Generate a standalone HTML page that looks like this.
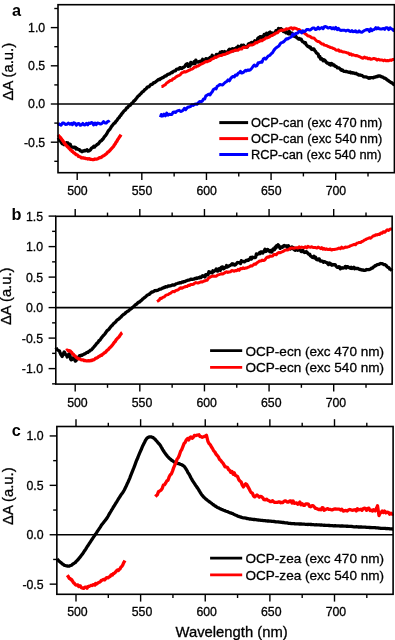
<!DOCTYPE html>
<html><head><meta charset="utf-8"><title>Figure</title>
<style>html,body{margin:0;padding:0;background:#fff;}svg{display:block}</style></head>
<body>
<svg width="395" height="640" viewBox="0 0 395 640">
<rect width="395" height="640" fill="#fff"/>
<g>
<polyline points="58.2,137.6 58.8,138.6 59.5,140.7 60.4,141.0 61.4,142.5 62.3,143.8 63.1,143.7 64.0,144.7 64.9,144.5 65.7,144.4 66.5,142.6 67.2,143.2 67.9,143.0 68.6,145.0 69.4,145.1 70.2,144.2 71.0,146.7 71.8,147.2 72.7,147.1 73.6,147.6 74.4,147.1 75.3,147.3 76.1,149.0 77.0,148.4 77.8,149.2 78.6,149.7 79.5,149.6 80.3,150.8 81.1,150.9 82.0,151.7 82.9,150.9 83.7,151.0 84.6,150.5 85.4,150.8 86.2,150.2 87.1,149.7 87.9,151.2 88.7,151.0 89.6,150.5 90.4,149.9 91.2,148.6 92.1,147.8 92.9,147.4 93.8,146.2 94.6,147.1 95.5,145.7 96.4,145.4 97.2,144.3 98.1,144.1 98.9,143.2 99.8,141.8 100.6,141.1 101.4,140.8 102.3,139.5 103.1,139.0 103.9,137.5 104.8,136.2 105.6,135.5 106.4,134.4 107.3,132.7 108.1,131.2 109.0,130.1 109.8,129.3 110.7,127.9 111.6,126.3 112.4,125.4 113.3,124.3 114.1,123.3 115.0,122.9 115.8,121.4 116.6,120.7 117.5,119.5 118.3,118.2 119.1,117.6 120.0,116.0 120.8,115.4 121.6,113.9 122.5,113.0 123.4,111.7 124.2,110.7 125.1,110.3 125.9,109.2 126.7,107.9 127.6,107.6 128.5,106.3 129.3,105.7 130.1,105.3 130.9,104.4 131.8,103.1 132.6,103.0 133.4,101.6 134.2,100.7 135.1,100.2 135.9,99.0 136.7,98.0 137.5,96.9 138.4,95.9 139.3,95.4 140.1,94.2 140.9,93.6 141.8,92.5 142.6,91.7 143.5,91.3 144.3,90.1 145.2,89.4 146.1,88.9 146.9,87.6 147.8,86.9 148.6,86.9 149.5,86.2 150.3,85.1 151.1,84.4 152.0,84.3 152.8,83.8 153.6,82.7 154.5,82.7 155.3,82.1 156.1,81.4 157.0,80.7 157.9,79.9 158.7,79.4 159.6,79.6 160.4,78.6 161.2,78.5 162.1,77.7 162.9,77.7 163.7,77.1 164.6,76.4 165.4,75.8 166.2,75.8 167.1,74.8 167.9,74.4 168.8,74.1 169.6,73.9 170.5,73.2 171.4,72.5 172.2,72.6 173.1,71.6 173.9,71.1 174.8,70.9 175.6,70.6 176.4,69.3 177.3,69.1 178.1,69.0 178.9,69.0 179.8,67.6 180.6,67.7 181.4,68.5 182.3,68.3 183.1,67.3 184.0,67.1 184.8,66.5 185.7,64.8 186.6,64.1 187.4,63.7 188.3,66.4 189.1,65.4 190.0,65.9 190.8,62.4 191.6,64.1 192.5,63.1 193.3,63.5 194.1,61.7 195.0,63.6 195.8,60.2 196.6,61.5 197.5,61.9 198.4,62.2 199.2,61.5 200.1,61.2 200.9,61.3 201.7,61.5 202.6,59.3 203.5,60.2 204.3,60.7 205.1,60.4 205.9,58.6 206.8,59.7 207.6,59.8 208.3,58.7 209.1,58.6 210.0,57.5 210.7,57.8 211.4,57.5 212.2,55.2 213.0,56.7 213.9,57.4 215.1,56.5 215.7,55.8 216.4,54.4 217.1,55.4 217.9,54.6 218.7,53.9 219.5,55.1 220.3,52.3 221.2,54.3 222.0,51.7 222.8,53.4 223.7,52.7 224.5,51.6 225.3,53.0 226.1,52.0 226.9,52.2 227.7,52.9 228.5,50.4 229.4,49.3 230.2,50.0 231.0,51.0 231.8,49.1 232.6,48.7 233.3,50.9 234.1,49.8 234.8,48.8 235.4,50.0 236.4,47.7 237.3,48.4 238.1,46.3 238.8,46.7 239.5,47.6 240.2,47.6 240.9,47.2 241.5,45.3 242.3,46.0 243.0,45.3 243.6,45.1 244.3,46.5 245.5,47.4 246.1,47.3 246.7,46.5 247.4,47.0 248.2,44.4 248.9,43.6 249.7,44.1 250.6,43.1 251.4,42.4 252.3,42.6 253.1,42.8 254.0,41.9 254.8,40.8 255.6,42.2 256.4,42.2 257.2,40.0 257.9,38.2 258.7,37.6 259.5,40.0 260.3,36.7 261.1,38.5 261.9,37.5 262.7,36.2 263.5,37.4 264.2,34.3 265.0,34.3 265.8,35.0 266.6,33.2 267.4,35.6 268.3,33.3 269.1,32.7 270.0,32.1 270.8,33.8 271.6,32.9 272.4,33.3 273.2,33.1 274.0,33.4 274.7,33.7 275.3,32.5 275.9,30.7 277.1,31.0 278.0,29.5 278.6,28.4 279.3,29.6 280.1,30.3 280.9,28.6 281.7,29.2 282.5,29.9 283.4,31.5 284.3,31.3 285.1,32.0 285.9,32.7 286.8,31.7 287.6,33.2 288.5,33.8 289.3,31.3 290.2,34.0 291.1,33.9 291.9,33.1 292.8,34.3 293.6,35.3 294.5,36.5 295.3,35.8 296.1,36.7 297.0,37.9 297.8,38.2 298.6,39.0 299.5,38.5 300.3,39.4 301.1,39.1 302.0,40.9 302.8,41.8 303.7,42.1 304.6,43.0 305.4,42.6 306.2,44.8 307.1,45.7 307.9,46.5 308.7,46.3 309.6,47.5 310.4,47.2 311.2,49.1 312.1,49.5 312.9,48.9 313.8,48.9 314.6,50.4 315.5,51.4 316.4,52.9 317.2,53.5 318.1,53.9 318.9,56.9 319.8,56.5 320.6,59.1 321.4,58.4 322.3,59.4 323.1,60.8 323.9,59.8 324.8,60.2 325.6,61.4 326.4,62.4 327.3,63.1 328.1,63.2 329.0,64.2 329.8,63.6 330.7,65.0 331.6,63.5 332.4,64.1 333.3,65.1 334.1,64.9 335.0,66.2 335.8,66.4 336.6,66.7 337.5,67.9 338.3,67.9 339.1,68.0 340.0,68.7 340.8,69.8 341.6,70.3 342.5,70.0 343.3,71.0 344.2,71.4 345.1,71.3 345.9,71.6 346.7,71.5 347.6,71.9 348.4,72.1 349.3,72.3 350.1,71.9 350.9,72.9 351.6,72.7 352.3,72.7 352.9,73.1 353.6,73.0 354.4,73.2 355.5,73.7 356.1,73.3 356.8,74.0 357.6,74.1 358.4,74.9 359.2,75.2 360.1,74.9 361.0,75.4 361.8,75.4 362.7,76.0 363.5,76.6 364.3,76.9 365.0,76.8 365.6,76.8 366.7,77.1 367.7,77.7 368.5,78.2 369.2,77.6 369.9,78.2 370.7,77.6 371.6,77.7 372.4,77.6 373.3,77.8 374.2,77.2 375.0,77.0 375.8,77.1 376.6,76.4 377.4,76.7 378.1,75.9 378.9,76.1 379.8,76.0 380.4,76.1 381.1,76.6 381.8,76.8 382.6,77.1 383.4,77.5 384.2,78.1 385.0,78.2 385.9,78.7 386.6,79.5 387.4,80.0 388.3,80.5 389.1,81.3 390.0,81.7 390.9,82.5 391.8,82.6 392.6,83.5 393.3,84.1 393.8,84.6 394.3,84.5" fill="none" stroke="#000" stroke-width="3.3" stroke-linejoin="round" stroke-linecap="butt"/>
<polyline points="58.2,134.9 58.7,135.7 59.5,136.7 60.4,137.5 61.3,138.7 62.3,140.1 63.1,141.1 64.0,142.6 64.8,143.6 65.6,144.6 66.4,145.5 67.2,146.5 68.0,147.0 68.8,148.1 69.6,148.7 70.4,149.9 71.2,150.1 72.0,151.4 72.8,151.6 73.6,152.7 74.4,153.1 75.3,153.8 76.1,154.7 76.9,154.7 77.7,155.3 78.6,156.5 79.5,156.7 80.3,156.8 81.1,157.8 82.0,158.0 82.9,157.7 83.7,158.1 84.6,158.1 85.4,158.4 86.3,158.7 87.1,158.6 88.0,159.1 88.9,158.7 89.7,158.9 90.4,159.4 91.3,159.3 92.0,159.5 92.7,159.7 93.5,159.6 94.2,159.4 95.0,159.0 95.8,159.2 96.6,159.1 97.5,158.8 98.3,158.4 99.1,157.9 100.0,157.6 100.9,157.5 101.7,157.1 102.6,156.2 103.5,155.8 104.3,155.3 105.2,154.7 106.0,154.2 106.9,153.3 107.7,152.2 108.5,152.0 109.4,150.9 110.3,150.1 111.1,149.0 111.9,148.3 112.7,147.3 113.6,146.4 114.4,144.8 115.2,143.9 116.0,142.3 116.8,141.4 117.7,139.6 118.7,138.2 119.6,136.8 120.4,135.7 121.0,134.7" fill="none" stroke="#f00" stroke-width="3.3" stroke-linejoin="round" stroke-linecap="butt"/>
<polyline points="161.4,86.6 162.4,86.5 163.8,85.5 165.4,84.7 166.6,83.0 167.9,82.2 169.2,81.2 170.5,80.4 171.8,80.3 173.1,78.7 174.3,78.5 175.6,77.2 176.9,76.4 178.1,75.7 179.3,75.4 180.6,74.3 181.9,72.7 183.1,72.4 184.4,71.6 185.7,72.0 187.0,71.3 188.3,70.7 189.5,70.2 190.8,69.4 192.1,69.1 193.3,68.2 194.5,66.9 195.8,67.1 197.1,66.0 198.4,65.9 199.6,65.0 200.9,64.3 202.2,63.6 203.5,63.1 204.7,62.3 205.9,61.5 207.3,61.7 208.6,61.0 210.0,60.6 211.1,59.6 212.2,58.9 213.4,58.6 215.1,57.1 216.1,57.5 217.3,56.8 218.6,56.0 219.9,55.6 221.3,55.6 222.6,54.8 224.0,54.6 225.3,54.3 226.6,53.6 227.8,52.8 229.1,52.8 230.4,52.0 231.6,51.5 232.9,51.0 234.1,50.8 235.4,49.9 236.7,50.3 237.9,50.3 239.2,49.1 240.4,49.1 241.7,49.0 243.0,47.4 244.2,47.1 245.5,47.5 246.8,47.1 248.0,46.3 249.3,45.2 250.5,45.0 251.8,45.1 253.1,44.6 254.3,44.0 255.6,42.6 256.9,42.9 258.1,41.7 259.4,41.6 260.7,40.2 262.0,40.8 263.3,39.7 264.5,39.3 265.8,38.0 267.1,37.9 268.5,37.3 269.9,36.6 271.2,35.6 272.5,35.5 273.8,34.3 274.9,33.7 275.9,33.0 277.7,32.7 278.9,31.1 280.1,30.6 281.3,30.0 282.5,30.4 283.8,30.0 285.1,29.7 286.4,28.7 287.6,28.9 288.9,28.6 290.2,28.0 291.5,27.8 292.8,29.1 294.0,27.9 295.3,28.3 296.6,28.6 297.8,29.5 299.0,29.4 300.3,30.6 301.6,31.2 302.8,32.8 304.1,32.6 305.4,33.9 306.7,34.8 307.9,36.1 309.1,36.1 310.4,36.7 311.7,37.7 312.9,37.9 314.2,38.3 315.5,39.7 316.8,41.0 318.1,41.6 319.3,41.7 320.6,43.1 321.9,44.0 323.1,43.9 324.3,45.1 325.6,45.4 326.9,45.8 328.1,46.5 329.4,46.9 330.7,47.6 332.0,47.7 333.3,48.6 334.5,48.7 335.8,50.1 337.1,50.3 338.3,49.8 339.5,51.3 340.8,50.9 342.1,51.6 343.3,52.1 344.6,52.1 345.9,52.4 347.2,53.0 348.4,53.0 349.7,54.4 350.9,53.8 351.9,55.1 352.9,54.7 354.0,55.2 355.5,55.7 356.5,55.5 357.6,55.9 358.9,56.5 360.2,56.9 361.6,57.8 362.9,58.2 364.3,57.1 365.6,58.0 366.9,57.7 368.1,58.8 369.4,58.3 370.7,59.3 372.0,59.0 373.3,58.6 374.5,58.6 375.8,59.0 377.1,60.1 378.4,59.2 379.7,59.9 381.0,59.9 382.2,60.0 383.5,60.7 384.7,60.0 385.9,60.7 387.3,60.6 388.7,60.8 390.1,60.0 391.4,60.4 392.6,59.5 393.6,59.5 394.3,59.3" fill="none" stroke="#f00" stroke-width="3.0" stroke-linejoin="round" stroke-linecap="butt"/>
<polyline points="58.2,122.8 59.0,124.6 60.0,124.4 61.1,125.2 62.5,123.1 63.9,123.0 65.4,124.4 66.9,124.2 68.5,123.1 70.0,124.3 71.2,123.4 72.4,124.6 73.6,122.7 74.9,123.1 76.3,125.3 77.6,123.7 78.9,123.5 80.3,125.3 81.5,124.8 82.8,123.4 83.9,124.7 85.0,125.0 86.5,123.4 87.8,124.8 88.9,123.0 90.0,123.5 91.2,122.6 92.3,122.7 93.6,124.9 95.0,123.0 96.2,124.7 97.5,122.9 99.0,123.4 100.5,124.1 102.0,123.4 103.5,121.6 105.0,123.0 106.3,123.1 107.5,121.6 108.5,121.3 109.3,122.5" fill="none" stroke="#00f" stroke-width="3.0" stroke-linejoin="round" stroke-linecap="butt"/>
<polyline points="160.4,117.2 161.3,114.5 162.6,116.0 164.0,114.1 165.4,115.8 166.7,113.1 167.9,115.1 169.2,114.3 170.5,114.5 171.8,114.5 173.1,112.2 174.3,112.0 175.6,112.5 176.9,111.1 178.1,110.7 179.3,110.3 180.6,111.5 181.9,111.1 183.1,110.3 184.4,108.3 185.7,109.6 187.0,108.0 188.3,106.9 189.5,106.9 190.8,106.3 192.1,104.8 193.3,105.4 194.5,104.2 195.8,104.1 197.1,104.3 198.4,102.8 199.6,101.5 200.9,101.8 202.2,101.2 203.5,98.9 204.7,99.1 205.9,95.8 207.3,95.1 208.6,94.2 210.0,94.9 211.1,93.1 212.2,91.9 213.4,89.5 215.1,88.6 216.1,88.9 217.3,86.2 218.6,85.5 219.9,84.5 221.3,84.8 222.6,85.0 224.0,83.5 225.3,82.3 226.6,81.6 228.0,79.9 229.3,80.9 230.7,78.4 232.0,77.1 233.2,76.4 234.4,76.9 235.4,74.9 237.0,75.3 238.2,73.1 239.3,72.8 240.4,71.3 241.6,73.1 242.6,72.8 243.9,71.9 245.5,70.4 246.5,70.9 247.7,69.9 248.9,70.4 250.2,69.8 251.6,68.5 253.0,66.5 254.3,65.0 255.6,66.3 256.9,65.6 258.1,62.8 259.4,62.8 260.7,61.9 262.0,62.2 263.3,59.0 264.5,58.1 265.8,59.1 267.1,57.3 268.5,55.9 269.9,55.4 271.2,53.7 272.5,52.8 273.8,50.5 274.9,49.0 275.9,47.9 277.7,46.7 278.9,46.0 280.1,43.9 281.3,42.7 282.5,42.4 283.8,41.6 285.1,40.3 286.4,38.7 287.6,39.0 288.9,38.1 290.2,37.5 291.5,36.8 292.8,34.0 294.0,35.1 295.3,33.7 296.6,33.3 297.8,33.0 299.0,31.6 300.3,31.4 301.6,32.8 302.8,30.7 304.1,31.8 305.4,30.9 306.7,29.6 307.9,29.4 309.1,29.9 310.4,29.9 311.7,28.8 312.9,27.9 314.2,28.0 315.5,29.5 316.8,29.0 318.1,27.3 319.3,29.0 320.6,28.2 321.9,27.5 323.1,28.7 324.3,26.7 325.6,26.6 326.9,27.2 328.1,28.1 329.4,27.6 330.7,27.6 332.0,28.8 333.3,27.8 334.5,29.0 335.8,27.4 337.1,29.6 338.3,28.3 339.5,29.8 340.8,30.4 342.1,30.2 343.3,30.2 344.6,30.3 345.9,31.0 347.2,30.3 348.4,30.3 349.7,31.3 350.9,31.5 351.9,30.6 352.9,31.7 354.0,31.6 355.5,30.7 356.5,32.0 357.8,32.1 359.1,30.9 360.5,32.1 361.9,32.2 363.3,31.3 364.5,30.5 365.6,30.0 367.2,29.5 368.5,29.8 369.5,31.4 370.7,28.9 371.9,30.7 372.9,29.8 374.2,29.6 375.8,27.6 376.8,28.9 378.0,27.7 379.3,28.8 380.6,29.1 382.0,28.9 383.4,28.4 384.7,29.3 385.9,27.7 387.3,27.7 388.7,29.6 390.1,27.8 391.4,29.0 392.6,29.2 393.6,30.5 394.3,29.7" fill="none" stroke="#00f" stroke-width="3.0" stroke-linejoin="round" stroke-linecap="butt"/>
<polyline points="56.1,347.6 56.7,349.3 57.5,349.9 58.4,350.5 59.4,350.8 60.1,352.9 60.9,354.6 61.6,355.6 62.2,356.4 63.1,354.2 64.2,351.9 64.9,353.2 65.7,354.8 66.5,354.8 67.2,357.0 68.3,354.7 69.2,353.8 69.9,354.8 70.6,359.1 71.3,359.9 72.3,359.3 73.3,357.7 74.3,358.5 75.3,361.1 76.2,360.4 77.3,357.6 78.0,358.7 78.7,356.8 79.5,355.6 80.4,356.0 81.1,355.2 81.9,355.4 82.8,354.7 83.7,354.4 84.5,353.9 85.4,353.6 86.2,352.9 87.1,352.3 87.9,352.4 88.8,351.4 89.6,351.2 90.5,350.1 91.4,349.9 92.2,349.0 93.1,347.9 93.9,347.0 94.8,345.9 95.6,345.1 96.4,343.7 97.3,342.9 98.1,342.2 98.9,340.7 99.8,340.2 100.6,339.2 101.4,337.8 102.3,336.8 103.1,335.8 104.0,334.8 104.8,334.2 105.7,332.7 106.6,331.4 107.4,330.4 108.3,329.8 109.1,329.0 110.0,327.7 110.8,326.7 111.6,325.8 112.5,325.1 113.3,323.9 114.1,323.3 115.0,322.4 115.8,321.7 116.6,320.6 117.5,319.8 118.4,319.2 119.2,318.8 120.1,317.6 120.9,317.1 121.7,316.1 122.6,315.2 123.5,314.4 124.3,314.1 125.1,313.4 125.9,312.4 126.8,311.9 127.6,311.3 128.4,310.9 129.2,310.3 130.1,309.2 130.9,309.0 131.7,308.3 132.5,307.4 133.4,306.9 134.3,305.9 135.1,305.1 135.9,304.4 136.8,304.1 137.6,303.0 138.5,302.2 139.3,302.1 140.2,301.4 141.1,300.5 141.9,300.1 142.8,298.8 143.6,298.3 144.5,297.6 145.3,297.0 146.2,296.2 147.0,295.4 147.9,294.8 148.8,294.5 149.6,294.0 150.3,293.3 151.1,292.5 151.7,292.0 152.4,292.2 153.4,291.5 154.0,291.4 154.7,290.7 155.5,290.5 156.3,290.7 157.2,290.3 158.1,290.1 158.9,289.6 159.7,289.2 160.4,289.1 161.4,288.9 162.2,288.1 163.1,288.0 163.9,287.4 164.7,287.5 165.5,286.7 166.4,286.9 167.2,286.8 168.1,285.9 168.9,286.1 169.8,285.9 170.6,285.8 171.4,285.4 172.3,285.0 173.1,284.9 173.9,285.1 174.8,284.9 175.6,284.1 176.4,283.8 177.3,283.5 178.1,283.2 179.0,283.1 179.8,282.6 180.7,282.9 181.6,282.5 182.4,281.9 183.3,282.0 184.1,281.6 185.0,281.5 185.8,281.1 186.6,280.7 187.5,280.4 188.3,280.2 189.1,280.1 190.0,279.7 190.8,279.1 191.6,279.4 192.5,279.3 193.4,279.1 194.2,279.0 195.1,278.3 195.9,278.5 196.7,278.0 197.6,278.3 198.5,277.6 199.3,277.8 200.1,276.9 200.9,277.6 201.8,276.6 202.6,275.7 203.3,276.3 204.1,275.8 205.0,277.0 205.7,274.7 206.4,274.8 207.2,274.3 208.0,274.9 208.9,271.7 210.1,272.6 210.7,272.1 211.4,272.5 212.1,272.9 212.9,270.7 213.7,271.6 214.5,270.8 215.3,270.6 216.2,268.9 217.0,270.9 217.8,271.1 218.7,269.0 219.5,268.6 220.3,270.4 221.1,267.5 221.9,267.1 222.6,266.9 223.4,268.9 224.2,268.4 225.0,267.3 225.7,267.5 226.5,265.5 227.3,267.1 228.1,266.3 228.8,266.3 229.6,265.6 230.4,265.4 231.2,264.6 232.0,263.8 232.7,264.7 233.5,263.9 234.3,265.0 235.1,265.1 235.8,264.5 236.6,263.5 237.4,262.5 238.2,262.7 238.9,262.7 239.7,262.9 240.5,263.6 241.3,260.7 242.1,261.6 242.8,261.3 243.6,261.7 244.4,261.9 245.2,261.3 245.9,260.5 246.7,260.6 247.5,260.0 248.3,260.3 249.0,259.5 249.8,259.1 250.6,257.4 251.4,259.1 252.2,257.1 253.1,257.4 253.9,257.6 254.8,257.6 255.6,257.3 256.4,253.9 257.3,254.4 258.0,254.0 258.8,253.8 259.5,252.7 260.2,253.6 260.8,251.8 261.9,251.8 262.8,253.1 263.6,251.9 264.3,250.6 265.0,249.2 265.8,251.5 266.7,250.7 267.5,249.4 268.4,250.1 269.3,251.3 270.1,251.7 270.9,250.4 271.8,252.1 272.7,249.6 273.5,248.7 274.4,249.8 275.1,247.1 276.0,247.9 276.7,245.6 277.4,246.1 278.1,244.8 279.0,245.8 280.1,248.4 280.8,247.0 281.6,246.8 282.5,247.2 283.4,246.0 284.3,245.5 285.2,246.2 286.1,245.9 286.9,245.8 287.8,248.3 288.6,245.8 289.5,248.4 290.3,249.0 291.1,248.6 292.0,246.9 292.8,248.7 293.6,247.7 294.5,249.8 295.3,250.3 296.1,249.1 297.0,248.5 297.8,250.3 298.7,249.0 299.6,249.8 300.4,250.4 301.2,251.6 302.1,250.7 302.9,250.4 303.7,252.1 304.6,252.5 305.4,252.3 306.2,251.6 307.1,252.4 307.9,253.4 308.8,254.3 309.6,254.1 310.5,255.9 311.4,256.5 312.2,257.2 313.1,257.6 313.9,256.2 314.8,257.9 315.6,257.3 316.4,259.5 317.1,259.5 317.9,259.9 318.6,259.0 319.3,259.0 320.1,261.0 320.9,260.9 321.7,261.2 322.6,261.2 323.4,262.3 324.3,261.6 325.1,261.8 325.9,262.3 326.8,262.5 327.6,263.6 328.5,264.5 329.3,263.0 330.2,263.3 331.1,264.6 331.9,265.2 332.8,264.4 333.6,264.8 334.5,264.6 335.3,264.9 336.1,266.2 337.0,267.1 337.8,267.4 338.6,266.7 339.5,266.9 340.3,268.9 341.1,268.1 342.0,267.7 342.8,268.2 343.7,268.0 344.6,267.4 345.4,266.4 346.2,268.1 347.1,266.8 347.9,266.6 348.7,267.4 349.6,268.0 350.4,268.3 351.2,267.3 352.1,268.5 352.9,267.9 353.8,267.2 354.6,268.7 355.5,268.2 356.4,268.5 357.2,268.5 358.1,268.4 358.9,269.2 359.8,269.5 360.6,269.4 361.4,269.9 362.3,270.1 363.1,269.8 363.9,270.3 364.8,270.4 365.6,270.2 366.4,269.5 367.3,269.7 368.1,269.7 369.0,269.5 369.8,269.4 370.7,268.9 371.6,268.1 372.4,268.1 373.3,267.1 374.2,266.7 375.0,265.6 375.8,265.7 376.7,264.9 377.5,264.7 378.2,264.4 379.0,264.3 379.8,263.8 380.6,263.5 381.4,263.7 382.3,263.6 383.1,264.1 383.9,264.6 384.7,264.6 385.5,265.0 386.3,265.6 387.1,266.6 387.9,267.4 388.8,267.6 389.7,269.0 390.7,269.4 391.4,270.0 392.0,270.8" fill="none" stroke="#000" stroke-width="3.3" stroke-linejoin="round" stroke-linecap="butt"/>
<polyline points="66.2,350.6 66.8,350.2 67.6,350.2 68.5,351.0 69.5,350.7 70.3,351.0 71.1,352.0 71.8,352.6 72.5,353.8 73.3,354.2 74.0,355.4 74.8,355.7 75.6,356.6 76.4,357.5 77.3,357.9 78.1,358.6 78.9,358.8 79.8,358.8 80.7,359.7 81.5,359.8 82.4,359.9 83.3,360.0 84.1,360.6 85.0,360.5 85.9,360.8 86.7,360.8 87.5,360.9 88.4,360.7 89.1,360.8 89.9,360.8 90.6,360.4 91.5,360.7 92.3,360.0 93.1,360.0 94.0,359.7 94.9,359.0 95.7,358.2 96.6,358.2 97.4,357.7 98.3,356.9 99.1,356.3 99.9,356.1 100.8,355.2 101.6,355.3 102.4,354.4 103.3,353.8 104.1,353.0 105.0,352.5 105.8,352.0 106.7,350.8 107.6,350.0 108.4,349.4 109.3,348.3 110.1,347.6 111.0,346.7 111.8,345.7 112.6,344.8 113.5,343.6 114.3,342.2 115.1,341.8 115.9,340.2 116.8,339.2 117.6,338.1 118.5,337.5 119.4,336.4 120.2,335.0 121.0,334.0 121.7,333.0 122.2,332.7" fill="none" stroke="#f00" stroke-width="3.3" stroke-linejoin="round" stroke-linecap="butt"/>
<polyline points="157.0,301.6 157.8,301.1 159.0,300.3 160.4,298.2 161.6,298.4 162.8,297.4 164.2,296.9 165.5,295.5 166.8,294.9 168.1,294.6 169.3,293.6 170.6,293.3 171.9,292.0 173.1,291.4 174.3,291.8 175.6,290.7 176.9,290.2 178.1,289.9 179.4,288.7 180.7,287.7 182.0,288.3 183.3,287.4 184.5,287.0 185.8,286.5 187.1,286.6 188.3,285.2 189.5,285.5 190.8,284.5 192.1,284.5 193.4,284.2 194.6,283.3 195.9,282.6 197.2,282.9 198.5,282.9 199.7,282.3 200.9,281.8 202.3,282.0 203.6,281.2 205.0,280.8 206.1,280.3 207.2,280.2 208.4,278.2 210.1,277.2 211.1,276.7 212.3,276.2 213.6,276.1 214.9,276.2 216.3,276.2 217.6,275.0 219.0,274.6 220.3,274.1 221.6,273.7 222.8,274.0 224.1,273.2 225.4,272.4 226.6,271.7 227.9,272.4 229.1,272.0 230.4,271.8 231.7,270.6 232.9,270.8 234.2,271.2 235.4,270.5 236.7,270.8 238.0,269.4 239.2,270.4 240.5,268.6 241.8,268.8 243.0,267.8 244.3,268.6 245.5,268.0 246.8,267.9 248.1,267.2 249.3,266.9 250.6,265.8 251.9,266.0 253.1,265.1 254.4,263.9 255.7,264.3 257.0,262.8 258.3,261.9 259.5,261.1 260.8,261.1 262.1,260.1 263.5,260.6 264.9,259.9 266.2,258.0 267.5,257.1 268.8,257.2 269.9,256.0 270.9,256.2 272.7,255.9 273.9,254.6 275.1,254.5 276.3,254.7 277.5,253.3 278.8,252.5 280.1,252.8 281.4,252.1 282.6,251.7 283.9,250.9 285.2,250.0 286.5,250.0 287.8,249.9 289.0,249.2 290.3,248.3 291.6,248.1 292.8,248.0 294.0,248.3 295.3,247.8 296.6,247.7 297.8,248.1 299.1,246.9 300.4,247.7 301.7,247.1 302.9,247.4 304.1,247.7 305.4,246.7 306.7,247.8 307.9,246.4 309.2,247.1 310.5,247.2 311.8,246.8 313.1,247.5 314.3,247.5 315.6,247.6 316.9,248.1 318.1,247.1 319.4,247.8 320.6,248.6 321.7,247.7 322.8,249.2 323.9,248.4 325.1,249.4 326.3,248.8 327.6,249.4 328.9,249.5 330.2,249.0 331.5,250.0 332.8,249.5 334.0,249.6 335.3,249.2 336.6,249.0 337.8,248.7 339.0,248.0 340.3,248.7 341.6,247.2 342.8,248.2 344.1,247.9 345.4,247.1 346.7,247.3 347.9,246.9 349.1,246.6 350.4,245.8 351.7,245.4 352.9,244.9 354.2,244.3 355.5,244.8 356.8,243.3 358.1,242.9 359.3,242.4 360.6,242.5 361.9,241.5 363.1,241.1 364.3,240.1 365.6,239.6 366.9,238.8 368.1,238.4 369.4,237.8 370.7,238.2 372.0,237.0 373.3,235.8 374.5,235.8 375.8,234.7 377.1,234.9 378.3,234.2 379.5,234.4 380.8,232.9 382.0,233.3 383.3,231.7 384.6,232.3 385.9,231.1 387.2,229.7 388.6,230.5 390.0,229.2 391.2,228.9 392.0,228.9" fill="none" stroke="#f00" stroke-width="3.0" stroke-linejoin="round" stroke-linecap="butt"/>
<polyline points="57.1,558.9 57.6,559.5 58.3,560.3 59.2,561.3 60.1,562.0 60.9,562.6 61.7,563.3 62.5,564.1 63.4,564.5 64.2,565.2 65.0,565.5 65.8,565.7 66.7,565.9 67.4,566.0 68.2,566.1 69.0,566.2 69.8,565.8 70.6,565.5 71.5,565.2 72.1,564.7 72.8,564.2 73.6,563.7 74.3,563.1 75.2,562.6 76.0,561.6 76.7,560.9 77.6,560.1 78.4,559.1 79.2,558.2 80.1,557.2 80.9,556.0 81.7,554.9 82.6,553.9 83.4,552.7 84.2,551.2 85.1,550.1 85.9,548.9 86.7,547.5 87.5,546.2 88.4,545.0 89.2,543.7 90.1,542.3 90.9,541.1 91.8,539.7 92.7,538.4 93.5,537.2 94.4,535.9 95.2,534.6 96.1,533.4 96.9,532.2 97.7,530.9 98.6,529.6 99.4,528.4 100.3,527.1 101.1,525.7 101.9,524.5 102.7,523.6 103.4,522.7 104.1,521.8 104.9,520.8 105.7,519.7 106.6,518.6 107.4,517.3 108.2,516.0 109.0,514.4 109.9,513.0 110.8,511.5 111.7,509.9 112.6,508.6 113.4,507.0 114.3,505.7 115.1,504.4 115.9,503.0 116.7,501.8 117.5,500.5 118.3,499.2 119.1,497.9 119.9,496.8 120.7,495.4 121.5,494.2 122.4,493.0 123.2,491.8 124.0,490.5 124.8,488.9 125.6,487.3 126.4,485.7 127.2,483.8 128.1,482.0 128.9,480.2 129.7,478.3 130.5,476.2 131.3,474.2 132.1,472.1 132.9,470.1 133.8,467.9 134.6,465.8 135.4,463.6 136.2,461.4 137.0,459.5 137.9,457.5 138.7,455.3 139.6,453.2 140.4,451.3 141.2,449.5 141.9,447.8 142.8,445.7 143.7,443.9 144.5,442.5 145.2,440.9 145.8,439.9 146.9,438.3 147.8,437.6 148.6,437.2 149.7,436.9 150.4,436.8 151.2,436.9 152.1,437.2 153.1,437.6 153.8,438.2 154.6,438.8 155.4,439.7 156.2,440.6 157.0,441.4 157.7,442.3 158.6,443.3 159.5,444.3 160.3,445.4 161.1,446.8 161.9,448.1 162.7,449.6 163.6,451.0 164.5,452.4 165.2,453.3 165.9,454.4 166.7,455.3 167.4,456.3 168.3,457.2 169.1,458.1 169.9,458.7 170.6,459.4 171.5,460.1 172.3,460.7 173.1,461.2 173.9,461.8 174.7,462.3 175.6,462.7 176.4,462.8 177.2,463.2 178.0,463.5 178.8,463.6 179.6,463.9 180.4,464.3 181.1,464.5 181.9,464.8 182.6,465.3 183.3,465.7 184.1,466.3 184.9,467.3 185.6,468.4 186.4,469.7 187.2,471.0 187.9,472.5 188.7,473.6 189.5,474.9 190.2,476.4 190.9,477.7 191.7,479.1 192.4,480.5 193.2,481.6 194.0,482.8 194.7,483.9 195.5,485.2 196.3,486.2 197.0,487.4 197.8,488.4 198.6,489.6 199.3,490.9 200.1,492.2 200.8,493.2 201.5,494.5 202.3,495.4 203.1,496.3 203.8,497.2 204.6,497.8 205.4,498.6 206.1,499.3 206.9,499.9 207.7,500.5 208.4,501.0 209.2,501.7 210.0,502.1 210.7,502.7 211.5,503.3 212.3,504.0 213.0,504.5 213.8,505.0 214.5,505.6 215.2,506.0 216.0,506.5 216.7,507.0 217.5,507.4 218.2,507.7 219.0,508.1 219.8,508.6 220.6,508.8 221.4,509.3 222.1,509.5 223.0,510.0 223.8,510.3 224.6,510.5 225.5,511.0 226.3,511.3 227.1,511.5 227.9,511.8 228.7,512.2 229.6,512.6 230.4,512.8 231.2,513.1 232.0,513.5 232.8,513.7 233.6,514.2 234.4,514.6 235.3,515.0 236.1,515.3 236.9,515.6 237.7,516.1 238.5,516.3 239.3,516.6 240.1,516.8 240.9,517.1 241.7,517.4 242.5,517.6 243.4,517.8 244.2,517.8 245.0,518.0 245.8,518.1 246.7,518.5 247.5,518.5 248.4,518.7 249.3,519.0 250.2,519.0 250.9,519.1 251.6,519.2 252.3,519.4 253.0,519.4 253.7,519.5 254.4,519.4 255.2,519.7 256.0,519.7 256.9,519.8 257.8,520.0 258.5,520.0 259.2,520.2 260.0,520.2 260.8,520.3 261.6,520.3 262.4,520.4 263.3,520.6 264.1,520.6 265.0,520.6 265.8,520.8 266.7,520.9 267.5,521.0 268.4,520.9 269.2,521.1 270.0,521.1 270.8,521.2 271.6,521.4 272.5,521.4 273.3,521.4 274.1,521.5 274.9,521.6 275.7,521.8 276.5,521.8 277.3,521.8 278.2,521.9 279.0,522.0 279.8,522.2 280.6,522.1 281.4,522.4 282.2,522.3 283.0,522.6 283.9,522.5 284.7,522.8 285.5,522.8 286.3,522.8 287.1,522.9 287.9,523.2 288.7,523.3 289.6,523.4 290.4,523.4 291.2,523.6 292.0,523.6 292.8,523.6 293.5,523.7 294.2,523.7 294.9,523.9 295.5,523.8 296.2,523.9 296.9,523.8 297.6,523.9 298.4,523.9 299.2,524.0 300.1,524.0 301.1,524.0 302.2,524.1 303.4,524.2 304.0,524.1 304.6,524.2 305.3,524.3 305.9,524.3 306.6,524.3 307.3,524.4 308.1,524.5 308.8,524.3 309.6,524.3 310.4,524.5 311.2,524.4 312.0,524.7 312.8,524.6 313.6,524.7 314.5,524.8 315.3,524.8 316.2,524.7 317.0,524.8 317.9,524.8 318.7,524.9 319.6,524.9 320.4,525.1 321.3,525.0 322.1,525.1 323.0,525.2 323.8,525.3 324.6,525.2 325.4,525.3 326.2,525.4 327.0,525.3 327.8,525.3 328.6,525.5 329.4,525.4 330.2,525.6 331.0,525.6 331.8,525.6 332.6,525.6 333.4,525.8 334.2,525.8 335.0,525.6 335.8,525.9 336.6,525.9 337.3,525.8 338.1,525.8 338.9,525.8 339.7,526.0 340.5,526.1 341.2,526.0 342.0,526.0 342.8,526.0 343.6,526.1 344.4,526.1 345.1,526.1 345.9,526.2 346.7,526.4 347.5,526.2 348.2,526.4 349.0,526.4 349.8,526.4 350.6,526.4 351.4,526.4 352.2,526.5 353.1,526.7 353.9,526.8 354.7,526.8 355.5,526.8 356.4,526.7 357.2,526.8 358.0,527.0 358.9,526.9 359.7,527.1 360.5,527.0 361.4,527.0 362.2,527.1 363.0,527.2 363.8,527.1 364.7,527.2 365.5,527.1 366.3,527.3 367.1,527.4 367.9,527.4 368.7,527.4 369.5,527.5 370.3,527.6 371.1,527.5 371.9,527.7 372.6,527.7 373.4,527.7 374.3,527.7 375.1,527.7 376.0,527.9 376.9,527.9 377.9,527.9 378.8,528.1 379.7,528.1 380.6,528.3 381.5,528.3 382.4,528.3 383.3,528.4 384.2,528.4 385.1,528.4 386.0,528.5 386.8,528.7 387.6,528.5 388.4,528.7 389.1,528.7 389.8,528.8 390.5,528.9 391.1,528.9 391.7,528.8 392.2,529.0 392.7,529.0 393.1,529.0" fill="none" stroke="#000" stroke-width="3.3" stroke-linejoin="round" stroke-linecap="butt"/>
<polyline points="67.2,575.2 67.7,575.9 68.4,576.7 69.3,578.4 70.3,578.7 71.0,579.8 71.8,579.7 72.7,581.4 73.6,582.9 74.4,583.3 75.3,584.7 76.1,585.2 77.0,585.0 77.9,584.9 78.7,586.5 79.6,585.9 80.4,586.0 81.2,587.5 82.1,587.9 82.9,588.1 83.7,588.4 84.6,587.3 85.4,587.1 86.2,587.1 87.1,588.3 87.9,586.7 88.8,586.5 89.6,586.0 90.5,585.7 91.4,585.3 92.2,585.5 93.1,584.7 93.9,584.6 94.8,585.1 95.6,583.5 96.4,584.1 97.3,583.5 98.1,582.8 98.9,582.3 99.8,582.2 100.6,581.4 101.4,580.4 102.3,580.2 103.1,579.6 104.0,579.4 104.8,579.9 105.7,578.6 106.6,577.6 107.4,577.8 108.3,577.9 109.1,576.8 110.0,576.7 110.8,575.2 111.6,574.7 112.5,575.0 113.3,573.5 114.1,573.3 115.0,572.7 115.8,571.7 116.7,570.7 117.5,569.9 118.4,570.6 119.3,569.3 120.1,568.8 120.9,567.1 121.8,566.5 122.8,564.8 123.6,562.9 124.4,561.5 124.9,560.5" fill="none" stroke="#f00" stroke-width="3.3" stroke-linejoin="round" stroke-linecap="butt"/>
<polyline points="155.4,496.6 156.2,495.7 157.3,494.8 158.5,491.7 159.9,490.9 161.1,489.9 162.2,488.4 163.4,485.0 164.5,484.7 165.7,483.0 166.8,480.9 168.0,480.2 169.1,477.1 170.3,474.8 171.4,473.9 172.5,471.1 173.7,467.6 174.8,465.1 175.9,463.0 177.0,459.2 178.2,457.8 179.4,455.0 180.6,451.3 181.6,449.9 182.8,446.8 184.1,443.4 185.1,442.5 186.3,439.8 187.5,438.6 188.7,440.0 189.8,437.6 190.9,436.9 192.1,438.3 193.2,437.5 194.3,435.5 195.5,435.7 196.7,435.2 197.8,435.2 199.0,434.8 200.1,436.7 201.3,436.7 202.3,437.3 203.6,436.8 204.7,436.4 205.6,435.8 206.4,435.2 208.0,441.6 209.0,443.5 210.2,444.6 211.5,447.0 212.6,448.6 213.7,450.9 214.8,451.9 216.0,454.1 217.1,455.4 218.3,456.8 219.5,459.4 220.6,460.3 221.7,461.8 222.8,462.9 224.0,464.9 225.1,466.8 226.2,466.9 227.4,467.4 228.6,469.6 229.7,470.4 230.8,472.3 231.9,471.4 233.1,474.2 234.2,472.8 235.3,475.2 236.5,475.9 237.6,476.7 238.8,479.6 240.0,481.1 241.2,482.1 242.3,485.2 243.4,486.9 244.6,485.0 245.7,483.7 246.8,484.6 247.9,486.6 249.0,488.6 250.2,491.0 251.2,492.6 252.4,493.2 253.5,495.9 254.7,496.9 255.8,496.0 257.0,494.9 258.1,495.9 259.3,497.2 260.4,496.5 261.6,496.7 262.7,497.7 263.9,499.7 265.2,499.8 266.5,499.1 267.8,500.2 269.2,500.8 270.3,501.5 271.5,501.5 272.6,500.7 273.8,501.9 274.9,502.4 276.0,502.4 277.2,502.3 278.3,502.0 279.5,501.9 280.6,502.8 281.7,502.3 282.9,502.5 284.0,501.2 285.2,500.8 286.3,501.3 287.4,502.1 288.6,502.0 289.7,501.0 290.9,501.0 292.0,503.1 293.1,500.9 294.3,503.3 295.4,503.1 296.6,502.9 297.7,504.2 298.8,503.6 299.9,502.1 301.0,504.8 302.2,503.7 303.4,505.3 304.5,505.3 305.8,503.8 307.1,503.9 308.3,504.1 309.6,506.4 310.7,506.8 311.9,505.7 313.1,505.7 314.2,506.8 315.3,508.3 316.4,508.4 317.5,509.0 318.7,509.6 319.8,509.2 321.0,509.7 322.1,507.7 323.1,507.9 324.1,510.3 325.1,509.8 326.3,509.1 327.8,508.7 328.8,509.3 330.0,509.4 331.2,509.8 332.5,509.8 333.8,509.1 335.2,508.9 336.6,509.2 337.9,509.1 339.2,509.1 340.5,510.0 341.8,509.3 343.2,511.1 344.6,510.6 345.9,510.5 347.2,511.0 348.4,510.0 349.6,509.5 350.6,509.7 352.1,510.3 353.3,510.2 354.3,509.8 355.3,509.7 356.3,511.0 357.4,508.7 358.6,509.8 359.7,509.6 360.9,509.2 362.0,510.3 363.1,508.8 364.3,508.2 365.4,508.3 366.6,510.3 367.7,508.6 368.9,508.1 370.1,510.6 371.3,510.1 372.4,511.1 373.4,509.7 375.2,510.9 376.5,508.3 377.5,505.8 379.0,515.5 379.9,513.5 381.3,512.1 382.2,511.0 383.3,512.6 384.5,511.0 385.8,512.9 387.0,512.1 388.3,512.3 389.7,514.2 391.1,513.2 392.3,514.2 393.1,513.5" fill="none" stroke="#f00" stroke-width="3.3" stroke-linejoin="round" stroke-linecap="butt"/>
</g>
<g fill="#000" stroke="#000" stroke-width="0.3">
<rect x="58.00" y="4.70" width="336.40" height="168.00" fill="none" stroke="#000" stroke-width="1.6"/>
<line x1="58.00" x2="394.40" y1="104.00" y2="104.00" stroke="#000" stroke-width="1.6"/>
<line x1="50.80" x2="58.00" y1="27.60" y2="27.60" stroke="#000" stroke-width="1.4"/>
<text x="45.20" y="32.00" font-size="12.3" text-anchor="end" font-family="Liberation Sans, sans-serif">1.0</text>
<line x1="50.80" x2="58.00" y1="65.80" y2="65.80" stroke="#000" stroke-width="1.4"/>
<text x="45.20" y="70.20" font-size="12.3" text-anchor="end" font-family="Liberation Sans, sans-serif">0.5</text>
<line x1="50.80" x2="58.00" y1="104.00" y2="104.00" stroke="#000" stroke-width="1.4"/>
<text x="45.20" y="108.40" font-size="12.3" text-anchor="end" font-family="Liberation Sans, sans-serif">0.0</text>
<line x1="50.80" x2="58.00" y1="142.20" y2="142.20" stroke="#000" stroke-width="1.4"/>
<text x="45.20" y="146.60" font-size="12.3" text-anchor="end" font-family="Liberation Sans, sans-serif">-0.5</text>
<line x1="54.30" x2="58.00" y1="8.50" y2="8.50" stroke="#000" stroke-width="1.4"/>
<line x1="54.30" x2="58.00" y1="46.70" y2="46.70" stroke="#000" stroke-width="1.4"/>
<line x1="54.30" x2="58.00" y1="84.90" y2="84.90" stroke="#000" stroke-width="1.4"/>
<line x1="54.30" x2="58.00" y1="123.10" y2="123.10" stroke="#000" stroke-width="1.4"/>
<line x1="54.30" x2="58.00" y1="161.30" y2="161.30" stroke="#000" stroke-width="1.4"/>
<line x1="77.20" x2="77.20" y1="172.70" y2="180.00" stroke="#000" stroke-width="1.4"/>
<text x="77.40" y="194.60" font-size="12.3" text-anchor="middle" font-family="Liberation Sans, sans-serif">500</text>
<line x1="109.51" x2="109.51" y1="172.70" y2="176.40" stroke="#000" stroke-width="1.4"/>
<line x1="141.82" x2="141.82" y1="172.70" y2="180.00" stroke="#000" stroke-width="1.4"/>
<text x="142.03" y="194.60" font-size="12.3" text-anchor="middle" font-family="Liberation Sans, sans-serif">550</text>
<line x1="174.14" x2="174.14" y1="172.70" y2="176.40" stroke="#000" stroke-width="1.4"/>
<line x1="206.45" x2="206.45" y1="172.70" y2="180.00" stroke="#000" stroke-width="1.4"/>
<text x="206.65" y="194.60" font-size="12.3" text-anchor="middle" font-family="Liberation Sans, sans-serif">600</text>
<line x1="238.76" x2="238.76" y1="172.70" y2="176.40" stroke="#000" stroke-width="1.4"/>
<line x1="271.07" x2="271.07" y1="172.70" y2="180.00" stroke="#000" stroke-width="1.4"/>
<text x="271.27" y="194.60" font-size="12.3" text-anchor="middle" font-family="Liberation Sans, sans-serif">650</text>
<line x1="303.39" x2="303.39" y1="172.70" y2="176.40" stroke="#000" stroke-width="1.4"/>
<line x1="335.70" x2="335.70" y1="172.70" y2="180.00" stroke="#000" stroke-width="1.4"/>
<text x="335.90" y="194.60" font-size="12.3" text-anchor="middle" font-family="Liberation Sans, sans-serif">700</text>
<line x1="368.01" x2="368.01" y1="172.70" y2="176.40" stroke="#000" stroke-width="1.4"/>
<text transform="translate(12.9,71.7) rotate(-90)" font-size="14.8" text-anchor="middle" font-family="Liberation Sans, sans-serif">ΔA (a.u.)</text>
<rect x="55.80" y="216.30" width="336.35" height="167.80" fill="none" stroke="#000" stroke-width="1.6"/>
<line x1="55.80" x2="392.15" y1="307.60" y2="307.60" stroke="#000" stroke-width="1.6"/>
<line x1="48.60" x2="55.80" y1="216.10" y2="216.10" stroke="#000" stroke-width="1.4"/>
<text x="43.00" y="220.50" font-size="12.3" text-anchor="end" font-family="Liberation Sans, sans-serif">1.5</text>
<line x1="48.60" x2="55.80" y1="246.60" y2="246.60" stroke="#000" stroke-width="1.4"/>
<text x="43.00" y="251.00" font-size="12.3" text-anchor="end" font-family="Liberation Sans, sans-serif">1.0</text>
<line x1="48.60" x2="55.80" y1="277.10" y2="277.10" stroke="#000" stroke-width="1.4"/>
<text x="43.00" y="281.50" font-size="12.3" text-anchor="end" font-family="Liberation Sans, sans-serif">0.5</text>
<line x1="48.60" x2="55.80" y1="307.60" y2="307.60" stroke="#000" stroke-width="1.4"/>
<text x="43.00" y="312.00" font-size="12.3" text-anchor="end" font-family="Liberation Sans, sans-serif">0.0</text>
<line x1="48.60" x2="55.80" y1="338.10" y2="338.10" stroke="#000" stroke-width="1.4"/>
<text x="43.00" y="342.50" font-size="12.3" text-anchor="end" font-family="Liberation Sans, sans-serif">-0.5</text>
<line x1="48.60" x2="55.80" y1="368.60" y2="368.60" stroke="#000" stroke-width="1.4"/>
<text x="43.00" y="373.00" font-size="12.3" text-anchor="end" font-family="Liberation Sans, sans-serif">-1.0</text>
<line x1="52.10" x2="55.80" y1="231.35" y2="231.35" stroke="#000" stroke-width="1.4"/>
<line x1="52.10" x2="55.80" y1="261.85" y2="261.85" stroke="#000" stroke-width="1.4"/>
<line x1="52.10" x2="55.80" y1="292.35" y2="292.35" stroke="#000" stroke-width="1.4"/>
<line x1="52.10" x2="55.80" y1="322.85" y2="322.85" stroke="#000" stroke-width="1.4"/>
<line x1="52.10" x2="55.80" y1="353.35" y2="353.35" stroke="#000" stroke-width="1.4"/>
<line x1="52.10" x2="55.80" y1="383.85" y2="383.85" stroke="#000" stroke-width="1.4"/>
<line x1="75.20" x2="75.20" y1="384.10" y2="391.40" stroke="#000" stroke-width="1.4"/>
<line x1="75.20" x2="75.20" y1="216.30" y2="209.00" stroke="#000" stroke-width="1.4"/>
<text x="77.40" y="406.50" font-size="12.3" text-anchor="middle" font-family="Liberation Sans, sans-serif">500</text>
<line x1="107.51" x2="107.51" y1="384.10" y2="387.80" stroke="#000" stroke-width="1.4"/>
<line x1="107.51" x2="107.51" y1="216.30" y2="212.60" stroke="#000" stroke-width="1.4"/>
<line x1="139.82" x2="139.82" y1="384.10" y2="391.40" stroke="#000" stroke-width="1.4"/>
<line x1="139.82" x2="139.82" y1="216.30" y2="209.00" stroke="#000" stroke-width="1.4"/>
<text x="142.03" y="406.50" font-size="12.3" text-anchor="middle" font-family="Liberation Sans, sans-serif">550</text>
<line x1="172.14" x2="172.14" y1="384.10" y2="387.80" stroke="#000" stroke-width="1.4"/>
<line x1="172.14" x2="172.14" y1="216.30" y2="212.60" stroke="#000" stroke-width="1.4"/>
<line x1="204.45" x2="204.45" y1="384.10" y2="391.40" stroke="#000" stroke-width="1.4"/>
<line x1="204.45" x2="204.45" y1="216.30" y2="209.00" stroke="#000" stroke-width="1.4"/>
<text x="206.65" y="406.50" font-size="12.3" text-anchor="middle" font-family="Liberation Sans, sans-serif">600</text>
<line x1="236.76" x2="236.76" y1="384.10" y2="387.80" stroke="#000" stroke-width="1.4"/>
<line x1="236.76" x2="236.76" y1="216.30" y2="212.60" stroke="#000" stroke-width="1.4"/>
<line x1="269.07" x2="269.07" y1="384.10" y2="391.40" stroke="#000" stroke-width="1.4"/>
<line x1="269.07" x2="269.07" y1="216.30" y2="209.00" stroke="#000" stroke-width="1.4"/>
<text x="271.27" y="406.50" font-size="12.3" text-anchor="middle" font-family="Liberation Sans, sans-serif">650</text>
<line x1="301.39" x2="301.39" y1="384.10" y2="387.80" stroke="#000" stroke-width="1.4"/>
<line x1="301.39" x2="301.39" y1="216.30" y2="212.60" stroke="#000" stroke-width="1.4"/>
<line x1="333.70" x2="333.70" y1="384.10" y2="391.40" stroke="#000" stroke-width="1.4"/>
<line x1="333.70" x2="333.70" y1="216.30" y2="209.00" stroke="#000" stroke-width="1.4"/>
<text x="335.90" y="406.50" font-size="12.3" text-anchor="middle" font-family="Liberation Sans, sans-serif">700</text>
<line x1="366.01" x2="366.01" y1="384.10" y2="387.80" stroke="#000" stroke-width="1.4"/>
<line x1="366.01" x2="366.01" y1="216.30" y2="212.60" stroke="#000" stroke-width="1.4"/>
<text transform="translate(10.9,296.3) rotate(-90)" font-size="14.8" text-anchor="middle" font-family="Liberation Sans, sans-serif">ΔA (a.u.)</text>
<rect x="56.85" y="426.50" width="336.25" height="167.80" fill="none" stroke="#000" stroke-width="1.6"/>
<line x1="56.85" x2="393.10" y1="534.75" y2="534.75" stroke="#000" stroke-width="1.6"/>
<line x1="49.65" x2="56.85" y1="435.95" y2="435.95" stroke="#000" stroke-width="1.4"/>
<text x="43.65" y="440.35" font-size="12.3" text-anchor="end" font-family="Liberation Sans, sans-serif">1.0</text>
<line x1="49.65" x2="56.85" y1="485.35" y2="485.35" stroke="#000" stroke-width="1.4"/>
<text x="43.65" y="489.75" font-size="12.3" text-anchor="end" font-family="Liberation Sans, sans-serif">0.5</text>
<line x1="49.65" x2="56.85" y1="534.75" y2="534.75" stroke="#000" stroke-width="1.4"/>
<text x="43.65" y="539.15" font-size="12.3" text-anchor="end" font-family="Liberation Sans, sans-serif">0.0</text>
<line x1="49.65" x2="56.85" y1="584.15" y2="584.15" stroke="#000" stroke-width="1.4"/>
<text x="43.65" y="588.55" font-size="12.3" text-anchor="end" font-family="Liberation Sans, sans-serif">-0.5</text>
<line x1="53.15" x2="56.85" y1="460.65" y2="460.65" stroke="#000" stroke-width="1.4"/>
<line x1="53.15" x2="56.85" y1="510.05" y2="510.05" stroke="#000" stroke-width="1.4"/>
<line x1="53.15" x2="56.85" y1="559.45" y2="559.45" stroke="#000" stroke-width="1.4"/>
<line x1="76.00" x2="76.00" y1="594.30" y2="601.60" stroke="#000" stroke-width="1.4"/>
<line x1="76.00" x2="76.00" y1="426.50" y2="419.20" stroke="#000" stroke-width="1.4"/>
<text x="77.40" y="616.20" font-size="12.3" text-anchor="middle" font-family="Liberation Sans, sans-serif">500</text>
<line x1="108.31" x2="108.31" y1="594.30" y2="598.00" stroke="#000" stroke-width="1.4"/>
<line x1="108.31" x2="108.31" y1="426.50" y2="422.80" stroke="#000" stroke-width="1.4"/>
<line x1="140.62" x2="140.62" y1="594.30" y2="601.60" stroke="#000" stroke-width="1.4"/>
<line x1="140.62" x2="140.62" y1="426.50" y2="419.20" stroke="#000" stroke-width="1.4"/>
<text x="142.03" y="616.20" font-size="12.3" text-anchor="middle" font-family="Liberation Sans, sans-serif">550</text>
<line x1="172.94" x2="172.94" y1="594.30" y2="598.00" stroke="#000" stroke-width="1.4"/>
<line x1="172.94" x2="172.94" y1="426.50" y2="422.80" stroke="#000" stroke-width="1.4"/>
<line x1="205.25" x2="205.25" y1="594.30" y2="601.60" stroke="#000" stroke-width="1.4"/>
<line x1="205.25" x2="205.25" y1="426.50" y2="419.20" stroke="#000" stroke-width="1.4"/>
<text x="206.65" y="616.20" font-size="12.3" text-anchor="middle" font-family="Liberation Sans, sans-serif">600</text>
<line x1="237.56" x2="237.56" y1="594.30" y2="598.00" stroke="#000" stroke-width="1.4"/>
<line x1="237.56" x2="237.56" y1="426.50" y2="422.80" stroke="#000" stroke-width="1.4"/>
<line x1="269.88" x2="269.88" y1="594.30" y2="601.60" stroke="#000" stroke-width="1.4"/>
<line x1="269.88" x2="269.88" y1="426.50" y2="419.20" stroke="#000" stroke-width="1.4"/>
<text x="271.27" y="616.20" font-size="12.3" text-anchor="middle" font-family="Liberation Sans, sans-serif">650</text>
<line x1="302.19" x2="302.19" y1="594.30" y2="598.00" stroke="#000" stroke-width="1.4"/>
<line x1="302.19" x2="302.19" y1="426.50" y2="422.80" stroke="#000" stroke-width="1.4"/>
<line x1="334.50" x2="334.50" y1="594.30" y2="601.60" stroke="#000" stroke-width="1.4"/>
<line x1="334.50" x2="334.50" y1="426.50" y2="419.20" stroke="#000" stroke-width="1.4"/>
<text x="335.90" y="616.20" font-size="12.3" text-anchor="middle" font-family="Liberation Sans, sans-serif">700</text>
<line x1="366.81" x2="366.81" y1="594.30" y2="598.00" stroke="#000" stroke-width="1.4"/>
<line x1="366.81" x2="366.81" y1="426.50" y2="422.80" stroke="#000" stroke-width="1.4"/>
<text transform="translate(12.9,496.2) rotate(-90)" font-size="14.8" text-anchor="middle" font-family="Liberation Sans, sans-serif">ΔA (a.u.)</text>
<text x="12.0" y="15.9" font-size="16.3" font-weight="bold" stroke="none" font-family="Liberation Sans, sans-serif">a</text>
<text x="11.4" y="219.5" font-size="16.3" font-weight="bold" stroke="none" font-family="Liberation Sans, sans-serif">b</text>
<text x="11.8" y="435.8" font-size="16.3" font-weight="bold" stroke="none" font-family="Liberation Sans, sans-serif">c</text>
<text x="231.6" y="636.5" font-size="14.8" text-anchor="middle" font-family="Liberation Sans, sans-serif">Wavelength (nm)</text>
<line x1="219.3" x2="248.1" y1="122.6" y2="122.6" stroke="#000" stroke-width="3.0"/>
<text x="250.9" y="127.3" font-size="12.85" font-family="Liberation Sans, sans-serif">OCP-can (exc 470 nm)</text>
<line x1="219.3" x2="248.1" y1="138.6" y2="138.6" stroke="#f00" stroke-width="3.0"/>
<text x="250.9" y="143.3" font-size="12.85" font-family="Liberation Sans, sans-serif">OCP-can (exc 540 nm)</text>
<line x1="219.3" x2="248.1" y1="154.5" y2="154.5" stroke="#00f" stroke-width="3.0"/>
<text x="250.9" y="159.2" font-size="12.85" font-family="Liberation Sans, sans-serif">RCP-can (exc 540 nm)</text>
<line x1="210.1" x2="242.2" y1="350.7" y2="350.7" stroke="#000" stroke-width="2.7"/>
<text x="245.5" y="355.5" font-size="13.55" font-family="Liberation Sans, sans-serif">OCP-ecn (exc 470 nm)</text>
<line x1="210.1" x2="242.2" y1="367.4" y2="367.4" stroke="#f00" stroke-width="2.7"/>
<text x="245.5" y="372.2" font-size="13.55" font-family="Liberation Sans, sans-serif">OCP-ecn (exc 540 nm)</text>
<line x1="210.1" x2="242.2" y1="558.1" y2="558.1" stroke="#000" stroke-width="2.7"/>
<text x="245.5" y="562.9" font-size="13.55" font-family="Liberation Sans, sans-serif">OCP-zea (exc 470 nm)</text>
<line x1="210.1" x2="242.2" y1="574.8" y2="574.8" stroke="#f00" stroke-width="2.7"/>
<text x="245.5" y="579.6" font-size="13.55" font-family="Liberation Sans, sans-serif">OCP-zea (exc 540 nm)</text>
</g>
</svg>
</body></html>
